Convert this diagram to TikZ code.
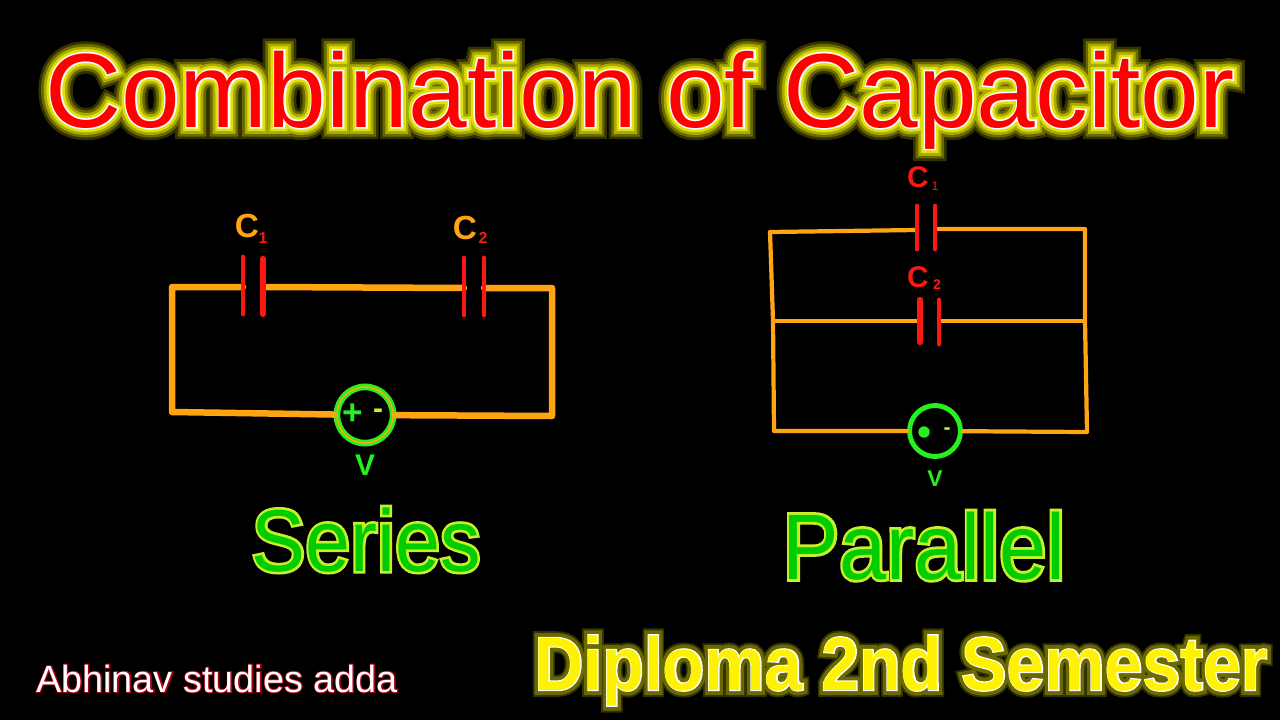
\documentclass[tikz,border=0pt]{standalone}
\usepackage{fontspec}
\setmainfont{Liberation Sans}
% stroked copies of the font, for the halo round the big words
\newfontfamily\haloa[FakeBold=23]{Liberation Sans}
\newfontfamily\halob[FakeBold=18]{Liberation Sans}
\newfontfamily\haloc[FakeBold=13]{Liberation Sans}
\newfontfamily\halod[FakeBold=8]{Liberation Sans}
\newfontfamily\haloe[FakeBold=3]{Liberation Sans}
\newfontfamily\halof[FakeBold=5]{Liberation Sans}
\newfontfamily\halog[FakeBold=6]{Liberation Sans}
\definecolor{wirecol}{RGB}{255,165,20}
\definecolor{capcol}{RGB}{250,25,15}
\definecolor{srccol}{RGB}{40,240,30}
\definecolor{wordcol}{RGB}{0,205,0}
\definecolor{edgecol}{RGB}{200,240,40}
\definecolor{glowa}{RGB}{50,50,0}
\definecolor{glowb}{RGB}{105,105,0}
\definecolor{glowc}{RGB}{170,170,0}
\definecolor{glowd}{RGB}{225,225,10}
\definecolor{darkred}{RGB}{170,0,20}
\newcommand{\halotext}[2]{\leavevmode
  \rlap{\color{glowa}\haloa #1}\rlap{\color{glowb}\halob #1}%
  \rlap{\color{glowc}\haloc #1}\rlap{\color{glowd}\halod #1}%
  \rlap{\color{white}\haloe #1}{\color{#2}#1}}
\newcommand{\dimtext}[2]{\leavevmode
  \rlap{\color{glowa}\halob #1}\rlap{\color{glowb}\haloc #1}%
  \rlap{\color{white}\haloe #1}{\color{#2}#1}}
\newcommand{\edgetext}[1]{\leavevmode
  \rlap{\color{edgecol}\halog #1}{\color{wordcol}#1}}
\tikzset{
  wire/.style={draw=wirecol,line width=2.4pt,line join=round,line cap=round},
  thickwire/.style={wire,line width=3.7pt},
  plate/.style={draw=capcol,line width=2.8pt,line cap=round},
  source/.style={circle,draw=srccol,inner sep=0pt,fill=black},
  capname/.style={text=#1,inner sep=0pt,font=\fontsize{19}{20}\selectfont\bfseries},
  capsub/.style={text=capcol,inner sep=0pt,font=\fontsize{9}{10}\selectfont\bfseries}
}
\begin{document}
\begin{tikzpicture}[x=0.02cm,y=-0.02cm]
  \fill[black] (0,0) rectangle (1280,720);
  \useasboundingbox (0,0) rectangle (1280,720);
  % heading
  \node[anchor=base,inner sep=0pt,font=\fontsize{60}{60}\selectfont] (title) at (640,127) {\halotext{Combination of Capacitor}{red}};
  % series circuit
  \coordinate (sa) at (172,287);
  \coordinate (sb) at (552,288);
  \coordinate (sc) at (552,416);
  \coordinate (sd) at (172,412);
  \coordinate (ca) at (243,287);
  \coordinate (cb) at (263,287);
  \coordinate (cc) at (464,288);
  \coordinate (cd) at (484,288);
  \node[source,line width=3.8pt,minimum size=32pt] (vs) at (365,415) {};
  \draw[thickwire] (ca) -- (sa) -- (sd) -- (vs);
  \draw[thickwire] (cb) -- (cc);
  \draw[thickwire] (cd) -- (sb) -- (sc) -- (vs);
  \draw[draw=wirecol,line width=0.9pt] (vs) circle (28);
  \draw[plate] (243,257) -- (243,314);
  \draw[plate,line width=3.6pt] (263,259) -- (263,314);
  \draw[plate] (464,258) -- (464,315);
  \draw[plate] (484,258) -- (484,315);
  \node[capname=wirecol] (sca) at (247,226) {C};
  \node[capsub] (scb) at (263,238) {1};
  \node[capname=wirecol] (scc) at (465,228) {C};
  \node[capsub] (scd) at (483,238) {2};
  \node[text=srccol,inner sep=0pt,font=\fontsize{20}{20}\selectfont\bfseries] (spl) at (353,414) {+};
  \node[text=edgecol,inner sep=0pt,font=\fontsize{17}{20}\selectfont\bfseries] (smi) at (378,414) {-};
  \node[text=srccol,inner sep=0pt,font=\fontsize{17}{20}\selectfont\bfseries] (sv) at (365,465) {V};
  \node[anchor=base,inner sep=0pt,font=\fontsize{50}{50}\selectfont] (series) at (366,571) {\scalebox{0.92}[1]{\edgetext{Series}}};
  % parallel circuit
  \coordinate (pa) at (770,232);
  \coordinate (pb) at (1085,229);
  \coordinate (pc) at (1087,432);
  \coordinate (pd) at (774,431);
  \coordinate (pe) at (773,321);
  \coordinate (pf) at (1085,321);
  \coordinate (qa) at (917,230);
  \coordinate (qb) at (935,229);
  \coordinate (qc) at (920,321);
  \coordinate (qd) at (939,321);
  \node[source,line width=2.8pt,minimum size=29pt] (vp) at (935,431) {};
  \draw[wire] (qa) -- (pa) -- (pe) -- (pd) -- (vp);
  \draw[wire] (qb) -- (pb) -- (pf) -- (pc) -- (vp);
  \draw[wire] (pe) -- (qc);
  \draw[wire] (qd) -- (pf);
  \draw[plate] (917,206) -- (917,249);
  \draw[plate] (935,206) -- (935,249);
  \draw[plate,line width=3.6pt] (920,300) -- (920,342);
  \draw[plate] (939,300) -- (939,344);
  \node[capname=capcol,font=\fontsize{17}{20}\selectfont\bfseries] (pca) at (918,177) {C};
  \node[capsub,font=\fontsize{7}{8}\selectfont] (pcb) at (935,186) {1};
  \node[capname=capcol,font=\fontsize{17}{20}\selectfont\bfseries] (pcc) at (918,277) {C};
  \node[capsub,font=\fontsize{8}{8}\selectfont\bfseries] (pcd) at (937,285) {2};
  \node[circle,fill=srccol,inner sep=0pt,minimum size=6.5pt] (ppl) at (924,432) {};
  \node[text=edgecol,inner sep=0pt,font=\fontsize{12}{14}\selectfont\bfseries] (pmi) at (947,431) {-};
  \node[text=srccol,inner sep=0pt,font=\fontsize{13}{14}\selectfont\bfseries] (pv) at (935,479) {V};
  \node[anchor=base,inner sep=0pt,font=\fontsize{53}{55}\selectfont] (parallel) at (924,579) {\scalebox{0.91}[1]{\edgetext{Parallel}}};
  % footer
  \node[anchor=base,inner sep=0pt,font=\fontsize{21.5}{22}\selectfont] (channel) at (217,692) {\leavevmode\rlap{\color{darkred}\halof Abhinav studies adda}{\color{white}Abhinav studies adda}};
  \node[anchor=base,inner sep=0pt,font=\fontsize{43}{44}\selectfont\bfseries] (course) at (901,690) {\scalebox{0.9}[1]{\dimtext{Diploma 2nd Semester}{yellow}}};
\end{tikzpicture}
\end{document}
